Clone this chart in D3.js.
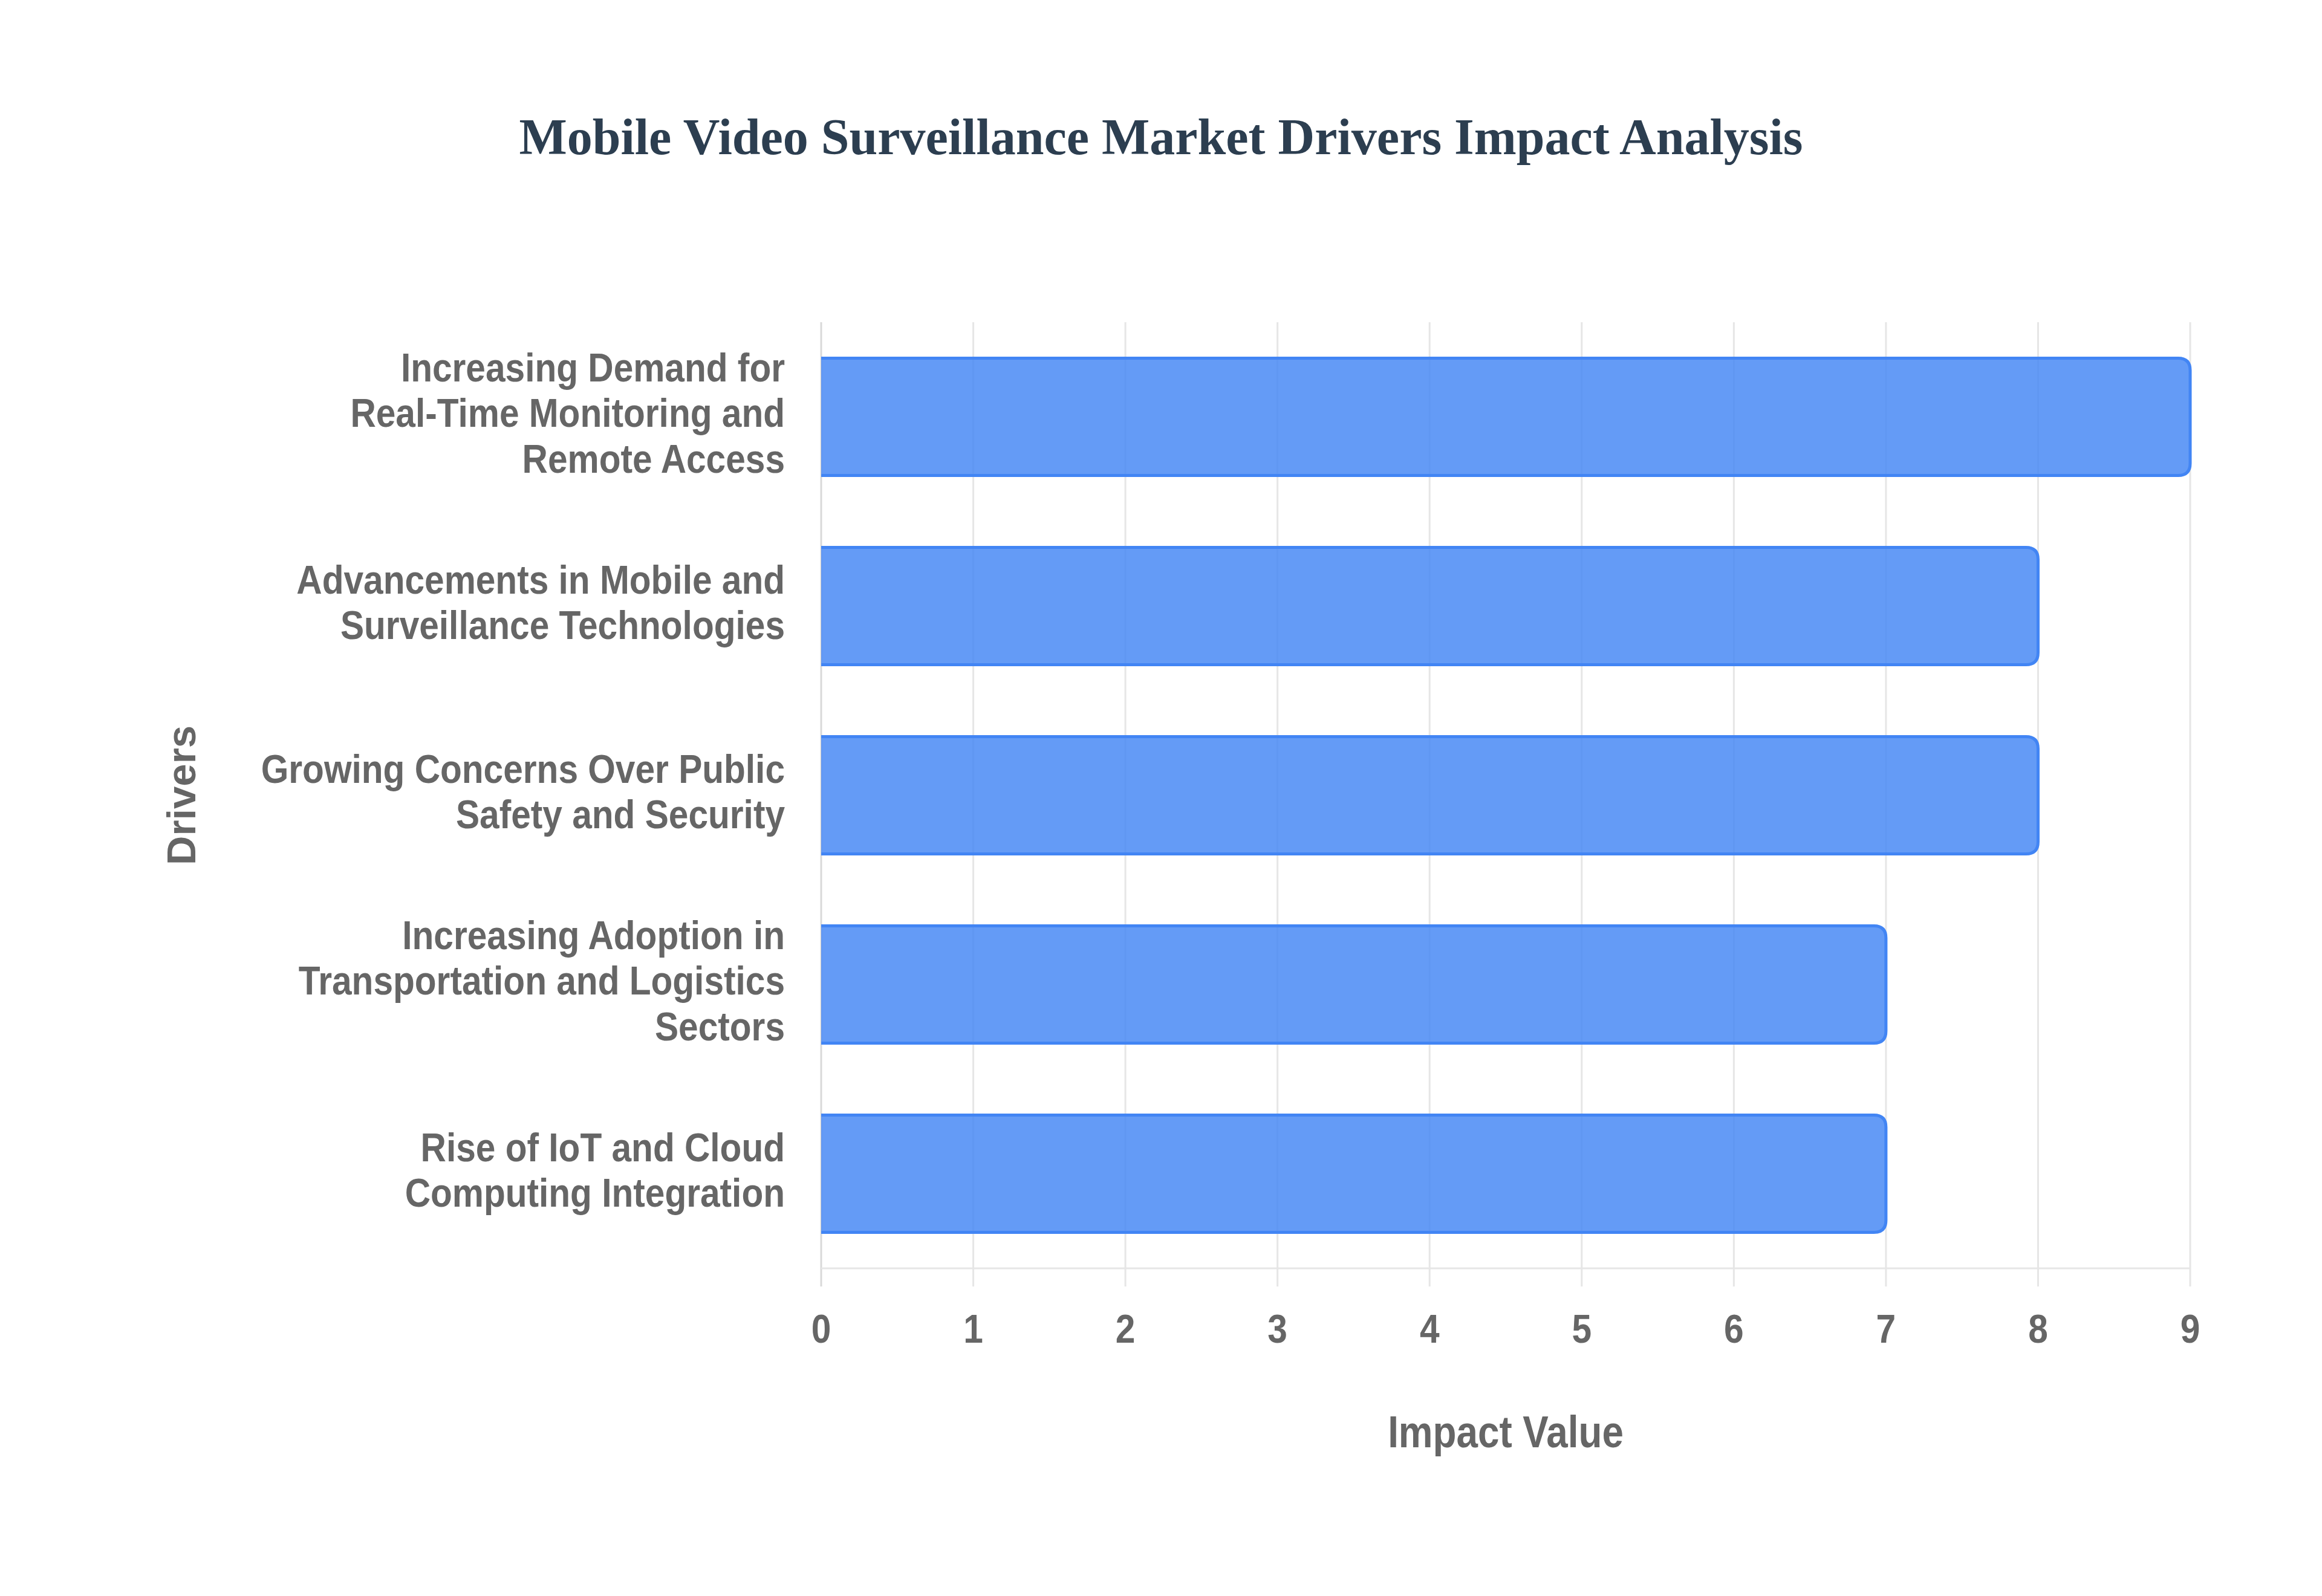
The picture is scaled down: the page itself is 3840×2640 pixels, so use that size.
<!DOCTYPE html>
<html>
<head>
<meta charset="utf-8">
<script src="https://cdn.jsdelivr.net/npm/d3@7"></script>
<style>
  body { margin: 0; background: #fff; }
  svg { display: block; }
</style>
</head>
<body>
<svg id="chart"></svg>
<script>
// chart data, top bar first
const drivers = [
  ['Increasing Demand for', 'Real-Time Monitoring and', 'Remote Access'],
  ['Advancements in Mobile and', 'Surveillance Technologies'],
  ['Growing Concerns Over Public', 'Safety and Security'],
  ['Increasing Adoption in', 'Transportation and Logistics', 'Sectors'],
  ['Rise of IoT and Cloud', 'Computing Integration']
]
const impactValues = [9, 8, 8, 7, 7]
const xTicks = [0, 1, 2, 3, 4, 5, 6, 7, 8, 9]

const titleText = 'Mobile Video Surveillance Market Drivers Impact Analysis'
const xTitle = 'Impact Value'
const yTitle = 'Drivers'

const width = 3840
const height = 2640
const plot = { left: 1358, right: 3622, top: 533, bottom: 2098 }

const sans = '"Liberation Sans", Arial, Helvetica, sans-serif'
const squeeze = 0.875
const labelColor = '#666666'
const gridColor = '#e6e6e6'

const svg = d3.select('#chart')
  .attr('width', width)
  .attr('height', height)

svg.append('rect')
  .attr('width', width)
  .attr('height', height)
  .attr('fill', '#ffffff')

const x = d3.scaleLinear()
  .domain([0, 9])
  .range([plot.left, plot.right])

const y = d3.scaleBand()
  .domain(d3.range(drivers.length))
  .range([plot.top, plot.bottom])
  .paddingInner(0.38)
  .paddingOuter(0.19)

// vertical grid lines, running a bit past the bottom as ticks
svg.append('g')
  .selectAll('line')
  .data(xTicks)
  .join('line')
  .attr('x1', d => x(d))
  .attr('x2', d => x(d))
  .attr('y1', plot.top)
  .attr('y2', plot.bottom + 30)
  .attr('stroke', d => d === 0 ? '#d9d9d9' : gridColor)
  .attr('stroke-width', 3)

// bottom axis border
svg.append('line')
  .attr('x1', plot.left)
  .attr('x2', plot.right)
  .attr('y1', plot.bottom)
  .attr('y2', plot.bottom)
  .attr('stroke', gridColor)
  .attr('stroke-width', 3)

// bars: square start, rounded end
const r = 20
const barPath = (v, i) => {
  const x0 = x(0), x1 = x(v)
  const y0 = y(i), y1 = y(i) + y.bandwidth()
  return `M${x0},${y0} H${x1 - r} Q${x1},${y0} ${x1},${y0 + r} V${y1 - r} Q${x1},${y1} ${x1 - r},${y1} H${x0}`
}

const bars = svg.append('g')
bars.selectAll('path.fill')
  .data(impactValues)
  .join('path')
  .attr('class', 'fill')
  .attr('d', (d, i) => barPath(d, i) + 'Z')
  .attr('fill', 'rgba(66,133,244,0.82)')
bars.selectAll('path.edge')
  .data(impactValues)
  .join('path')
  .attr('class', 'edge')
  .attr('d', (d, i) => barPath(d, i))
  .attr('fill', 'none')
  .attr('stroke', '#4285f4')
  .attr('stroke-width', 5)

// x tick labels
svg.append('g')
  .selectAll('text')
  .data(xTicks)
  .join('text')
  .attr('transform', d => `translate(${x(d)},2221) scale(${squeeze},1)`)
  .attr('text-anchor', 'middle')
  .attr('font-family', sans)
  .attr('font-weight', 'bold')
  .attr('font-size', 67)
  .attr('fill', labelColor)
  .text(d => d)

// category labels
const lineH = 76
svg.append('g')
  .selectAll('text')
  .data(drivers)
  .join('text')
  .attr('transform', (d, i) => {
    const cy = y(i) + y.bandwidth() / 2
    const first = cy - (d.length - 1) / 2 * lineH + 17
    return `translate(1298,${first}) scale(${squeeze},1)`
  })
  .attr('text-anchor', 'end')
  .attr('font-family', sans)
  .attr('font-weight', 'bold')
  .attr('font-size', 67)
  .attr('fill', labelColor)
  .selectAll('tspan')
  .data(d => d)
  .join('tspan')
  .attr('x', 0)
  .attr('dy', (d, j) => j === 0 ? 0 : lineH)
  .text(d => d)

// axis titles
svg.append('text')
  .attr('transform', `translate(${(plot.left + plot.right) / 2},2394) scale(0.85,1)`)
  .attr('text-anchor', 'middle')
  .attr('font-family', sans)
  .attr('font-weight', 'bold')
  .attr('font-size', 75)
  .attr('fill', labelColor)
  .text(xTitle)

svg.append('text')
  .attr('transform', `translate(323,${(plot.top + plot.bottom) / 2}) rotate(-90)`)
  .attr('text-anchor', 'middle')
  .attr('font-family', sans)
  .attr('font-weight', 'bold')
  .attr('font-size', 67)
  .attr('fill', labelColor)
  .text(yTitle)

// title
svg.append('text')
  .attr('x', 1920)
  .attr('y', 255)
  .attr('text-anchor', 'middle')
  .attr('font-family', '"Liberation Serif", "Times New Roman", serif')
  .attr('font-weight', 'bold')
  .attr('font-size', 84)
  .attr('fill', '#2c3e50')
  .text(titleText)
</script>
</body>
</html>
